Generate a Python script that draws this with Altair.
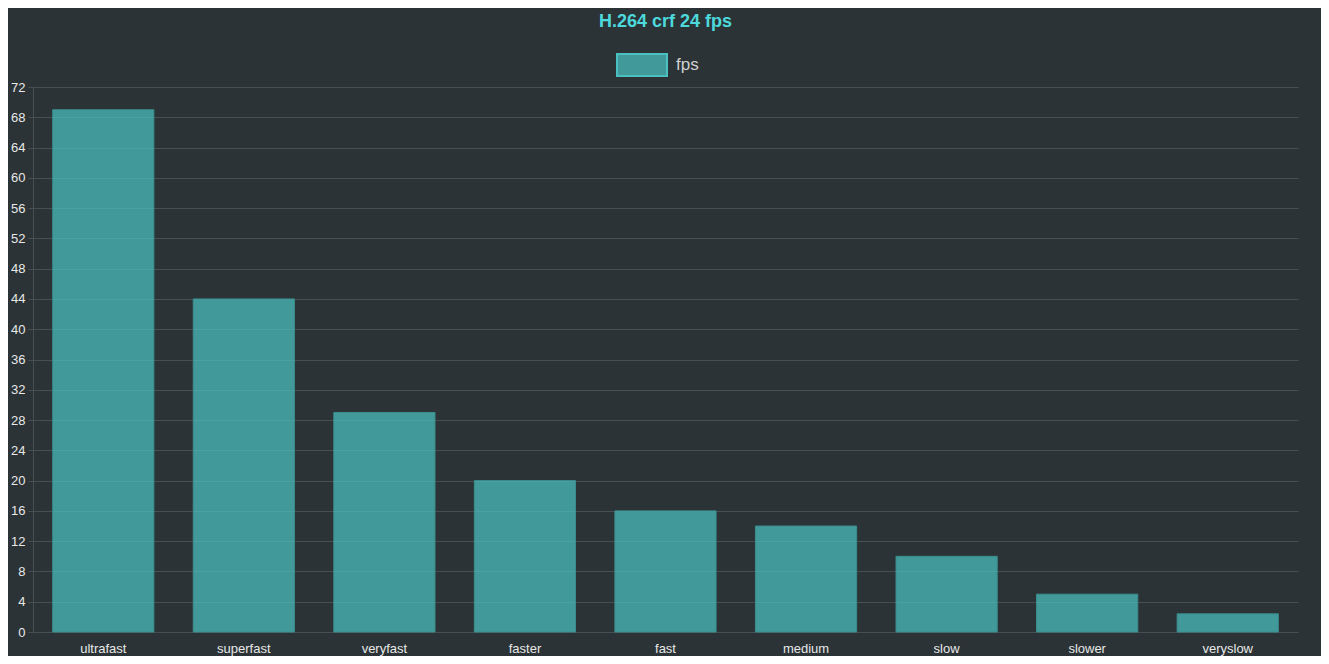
import altair as alt
import pandas as pd

presets = ["ultrafast", "superfast", "veryfast", "faster", "fast", "medium", "slow", "slower", "veryslow"]
fps = [69, 44, 29, 20, 16, 14, 10, 5, 2.4]
series = ["fps"] * len(presets)

df = pd.DataFrame({"preset": presets, "fps": fps, "series": series})

BG = "#2b3336"
GRID = "#465052"

chart = alt.Chart(df).mark_bar(
    stroke="#3a8e8d", strokeWidth=1
).encode(
    x=alt.X("preset:N", sort=presets, title=None,
            scale=alt.Scale(paddingInner=0.28, paddingOuter=0.14),
            axis=alt.Axis(labelAngle=0, labelColor="#e8e8e8", labelFontSize=13,
                          labelFont="Liberation Sans", labelPadding=10,
                          ticks=False, domain=False, grid=False)),
    y=alt.Y("fps:Q", title=None,
            scale=alt.Scale(domain=[0, 72], nice=False),
            axis=alt.Axis(values=list(range(0, 73, 4)), labelColor="#e8e8e8",
                          labelFontSize=13, labelFont="Liberation Sans",
                          labelPadding=3, tickSize=5, tickColor=GRID,
                          domainColor=GRID, gridColor=GRID, gridWidth=1)),
    color=alt.Color("series:N", title=None,
                    scale=alt.Scale(range=["#4bc0c0"]),
                    legend=alt.Legend(orient="none", legendX=583, legendY=-48,
                                      symbolType="M-1,-0.44H1V0.44H-1Z",
                                      symbolSize=2500,
                                      symbolStrokeColor="#4bc0c0", symbolStrokeWidth=2,
                                      labelColor="#d0d0d0", labelFontSize=17,
                                      labelFont="Liberation Sans", labelOffset=8)),
).properties(
    width=1265, height=545,
    title=alt.TitleParams("H.264 crf 24 fps", color="#4dd9dc", fontSize=18,
                          font="Liberation Sans", fontWeight="bold",
                          anchor="middle", frame="group", offset=8),
    background=BG,
    padding={"left": 25, "top": 79, "right": 23, "bottom": 24},
    autosize=alt.AutoSizeParams(type="none"),
).configure_view(stroke=None).configure_bar(fillOpacity=0.72)

chart.save("out.html", embed_options={"renderer": "svg", "actions": False})
